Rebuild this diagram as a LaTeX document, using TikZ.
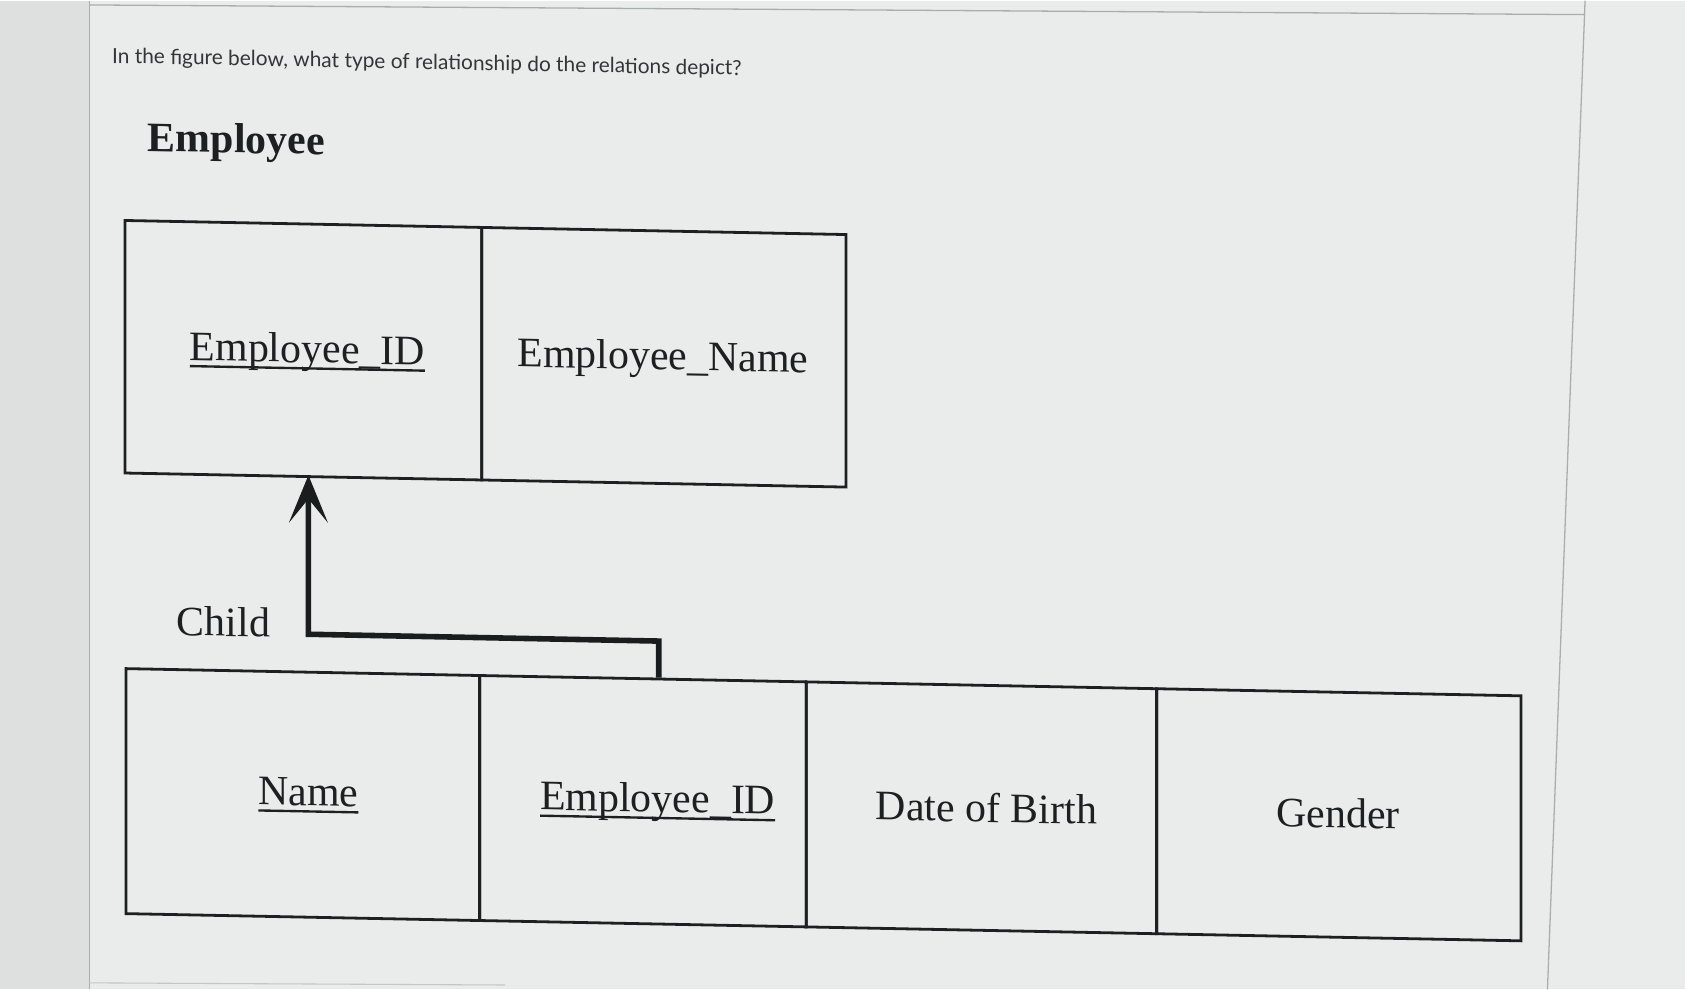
\documentclass[tikz,border=0pt]{standalone}
\usepackage{fontspec}
\setmainfont{Liberation Serif}
\newfontfamily\latofont{Lato}
\usetikzlibrary{arrows.meta}
\definecolor{bgout}{HTML}{DDE0DF}
\definecolor{panel}{HTML}{E9ECEB}
\definecolor{ink}{HTML}{1C2020}
\definecolor{frame}{HTML}{A9AEAD}
\newcommand\myul[1]{\setbox0\hbox{#1}\rlap{\raisebox{-3.2pt}{\rule{\wd0}{1.1pt}}}\box0}
\begin{document}
\begin{tikzpicture}[x=0.5pt,y=-0.5pt,
  cell/.style={draw=ink, line width=1.3pt, inner sep=0pt, anchor=north west, minimum height=#1},
  txt/.style={inner sep=0pt, text=ink, font=\fontsize{19.5}{22}\selectfont},
  conn/.style={draw=ink!90!black, line width=2.6pt, line join=miter},
  question/.style={inner sep=0pt, anchor=base west, text=ink!90, font=\latofont\fontsize{9.7}{12}\selectfont}
]
% background and panel
\fill[panel] (0,0) rectangle (1568,920);
\fill[bgout] (0,0) rectangle (83,920);
\draw[frame, line width=0.6pt] (83,0) -- (83,920);
\draw[frame, line width=0.6pt] (83,4) -- (1475,13);
\draw[frame, line width=0.6pt] (1475,0) -- (1440,920);
\draw[frame!70, line width=0.5pt] (83,914) -- (470,916);
\useasboundingbox (0,0) rectangle (1568,920);

\begin{scope}[cm={1,-0.0195,0,1,(0pt,0pt)}, transform shape]
  \node[question] (q) at (104,56) {In the figure below, what type of relationship do the relations depict?};
  \node[txt, font=\bfseries\fontsize{19.5}{22}\selectfont] (title) at (220,128) {Employee};

  % Employee relation
  \node[cell=117.5pt, minimum width=166pt] (eid) at (115,201) {};
  \node[cell=117.5pt, minimum width=169.5pt] (ename) at (447,201) {};
  \node[txt] (teid) at (286,322) {\myul{Employee\_ID}};
  \node[txt] (tename) at (617,322) {Employee\_Name};

  % Child relation
  \node[cell=114pt, minimum width=164.5pt] (cname) at (116,618) {};
  \node[cell=114pt, minimum width=152pt] (ceid) at (445,618) {};
  \node[cell=114pt, minimum width=163pt] (cdob) at (749,618) {};
  \node[cell=114pt, minimum width=169.5pt] (cgen) at (1075,618) {};
  \node[txt] (tcname) at (287,734) {\myul{Name}};
  \node[txt] (tceid) at (612,734) {\myul{Employee\_ID}};
  \node[txt] (tcdob) at (918,733) {Date of Birth};
  \node[txt] (tcgen) at (1245,732) {Gender};

  \node[txt] (child) at (208,574) {Child};

  % foreign key connector
  \coordinate (fk) at (613,618);
  \coordinate (pk) at (287,436);
  \draw[conn, -{Stealth[length=22pt,width=18pt,inset=11pt]}] (fk) -- ++(0,-34) -| (pk);
\end{scope}
\end{tikzpicture}
\end{document}
